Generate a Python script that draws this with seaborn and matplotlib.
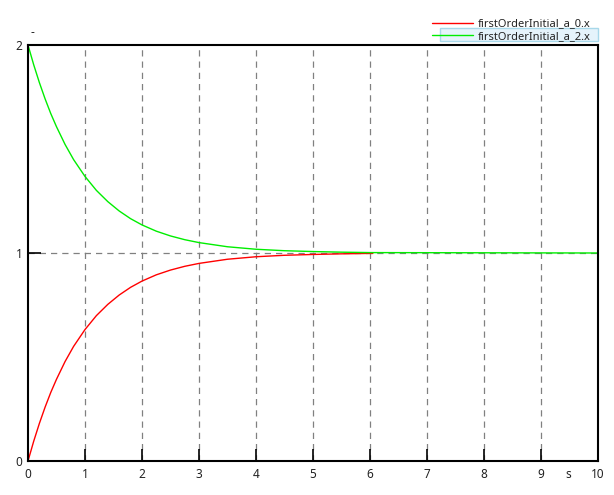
import numpy as np
import pandas as pd
import matplotlib
matplotlib.use("Agg")
import matplotlib.pyplot as plt
import seaborn as sns
from matplotlib.patches import Rectangle

# time points (s)
t_a0 = [0, 0.1, 0.2, 0.3, 0.4, 0.5, 0.65, 0.8, 1.0, 1.2, 1.4, 1.6, 1.8, 2.0, 2.25, 2.5,
        2.75, 3.0, 3.5, 4.0, 4.5, 5.0, 5.5, 6.0, 6.05]
x_a0 = [0.0, 0.095, 0.181, 0.259, 0.330, 0.393, 0.478, 0.551, 0.632, 0.699, 0.753, 0.798,
        0.835, 0.865, 0.895, 0.918, 0.936, 0.950, 0.970, 0.982, 0.989, 0.993, 0.996, 0.998, 0.998]

t_a2 = [0, 0.1, 0.2, 0.3, 0.4, 0.5, 0.65, 0.8, 1.0, 1.2, 1.4, 1.6, 1.8, 2.0, 2.25, 2.5,
        2.75, 3.0, 3.5, 4.0, 4.5, 5.0, 5.5, 6.0, 10.0]
x_a2 = [2.0, 1.905, 1.819, 1.741, 1.670, 1.607, 1.522, 1.449, 1.368, 1.301, 1.247, 1.202,
        1.165, 1.135, 1.105, 1.082, 1.064, 1.050, 1.030, 1.018, 1.011, 1.007, 1.004, 1.002, 1.0]

series_names = ["firstOrderInitial_a_0.x", "firstOrderInitial_a_2.x"]
x_ticks = [0, 1, 2, 3, 4, 5, 6, 7, 8, 9, 10]
y_ticks = [0, 1, 2]

df = pd.concat([
    pd.DataFrame({"t": t_a0, "v": x_a0, "name": series_names[0]}),
    pd.DataFrame({"t": t_a2, "v": x_a2, "name": series_names[1]}),
])

sns.set_theme(style="white")
plt.rcParams["font.family"] = ["Noto Sans", "DejaVu Sans"]

fig = plt.figure(figsize=(6.14, 4.95), dpi=100)
ax = fig.add_axes([28/614, 1-461/495, 570/614, 416/495])

sns.lineplot(data=df, x="t", y="v", hue="name", palette=["#ff0000", "#00ee00"],
             linewidth=1.0, ax=ax, sort=False, estimator=None)

ax.set_xlim(0, 10)
ax.set_ylim(0, 2)
ax.set_xticks(x_ticks)
ax.set_yticks(y_ticks)
ax.set_xticklabels([str(v) for v in x_ticks], fontsize=8.5, color="#222222")
ax.set_yticklabels([str(v) for v in y_ticks], fontsize=8.5, color="#222222")
ax.set_xlabel("")
ax.set_ylabel("")
ax.tick_params(axis="both", direction="in", length=9, width=1.2, color="black", pad=4,
               bottom=True, left=True)
ax.tick_params(axis="x", pad=5)
for sp in ax.spines.values():
    sp.set_color("black")
    sp.set_linewidth(1.5)

# dashed grid
for xv in x_ticks[1:-1]:
    ax.axvline(xv, color="#808080", linestyle=(0, (5, 4)), linewidth=0.9, zorder=0)
ax.axhline(1, color="#808080", linestyle=(0, (5, 4)), linewidth=0.9, zorder=0)

# unit labels
fig.text(568/614, 1-475/495, "s", fontsize=8.5, color="#222222", ha="center", va="center")
fig.text(32/614, 1-33/495, "-", fontsize=8.5, color="#222222", ha="center", va="center")

# legend
ax.legend_.remove()
handles, labels = ax.get_legend_handles_labels()
fig.patches.append(Rectangle((440/614, 1-41/495), 158/614, 13/495, transform=fig.transFigure,
                             facecolor="#e5f3fb", edgecolor="#a8d8ea", linewidth=1.0, zorder=0))
leg = fig.legend(handles, labels, loc="upper right", bbox_to_anchor=(596/614, 1-13/495),
                 frameon=False, fontsize=8.0, handlelength=3.7, handletextpad=0.4,
                 labelspacing=0.12, borderpad=0.0)
for t in leg.get_texts():
    t.set_color("#222222")

fig.savefig("out.png", dpi=100)
